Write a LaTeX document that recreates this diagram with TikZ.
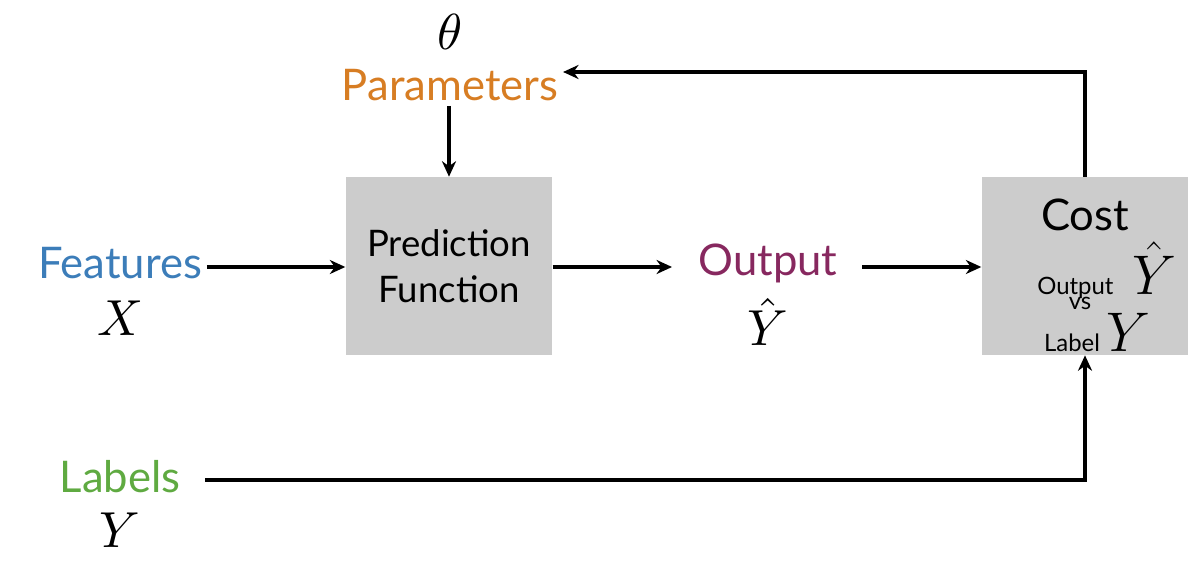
\documentclass[tikz,border=0pt]{standalone}
\usepackage{fontspec}
\setmainfont{Lato}
\usetikzlibrary{arrows.meta}
\definecolor{featblue}{RGB}{60,125,185}
\definecolor{parorange}{RGB}{215,125,35}
\definecolor{outpurple}{RGB}{135,40,95}
\definecolor{labgreen}{RGB}{95,170,65}
\definecolor{boxgray}{RGB}{204,204,204}
\newcommand{\bigmath}[1]{\scalebox{3.6}{$#1$}}
\newcommand{\midmath}[1]{\scalebox{2.3}{$#1$}}
\tikzset{
  big/.style={font=\fontsize{31}{33}\selectfont},
  small/.style={font=\fontsize{17}{20}\selectfont},
  block/.style={fill=boxgray, draw=none, minimum width=5.17cm, minimum height=4.45cm, align=center},
  flow/.style={-{Stealth[length=11pt,width=10pt]}, line width=2.6pt}
}
\begin{document}
\begin{tikzpicture}[x=0.025cm,y=-0.025cm]
  \useasboundingbox (0,0) rectangle (1200,563);
  % parameters
  \node (theta) at (450,32) {\bigmath{\theta}};
  \node[big, text=parorange] (par) at (450,85) {Parameters};
  % blocks
  \node[block, font=\fontsize{26}{33}\selectfont] (pred) at (449,266) {Prediction\\Function};
  \node[block] (cost) at (1085,266) {};
  \node[big] (costt) at (1085,215) {Cost};
  \node[small] (costo) at (1107,270) {Output\;\; \midmath{\hat{Y}}};
  \node[small] (costvs) at (1080,303) {vs};
  \node[small] (costl) at (1097,332) {Label \midmath{Y}};
  % inputs and output
  \node[big, text=featblue] (feat) at (120,263) {Features};
  \node (X) at (120,318) {\bigmath{X}};
  \node[big, text=outpurple] (out) at (768,263) {Output};
  \node (Yhat) at (768,322) {\bigmath{\hat{Y}}};
  \node[big, text=labgreen] (lab) at (120,477) {Labels};
  \node (Y) at (120,530) {\bigmath{Y}};
  % connectors
  \coordinate (cfb) at (1085,72);
  \coordinate (cly) at (1085,480);
  \draw[flow] (pred.north |- par.south) -- (pred.north);
  \draw[flow] (feat.east |- 0,267) -- (pred.west |- 0,267);
  \draw[flow] (pred.east |- 0,267) -- (672,267);
  \draw[flow] (862,267) -- (cost.west |- 0,267);
  \draw[flow] (cost.north) -- (cfb) -- (par.east |- cfb);
  \draw[flow] (205,480) -- (cly) -- (cost.south);
\end{tikzpicture}
\end{document}
